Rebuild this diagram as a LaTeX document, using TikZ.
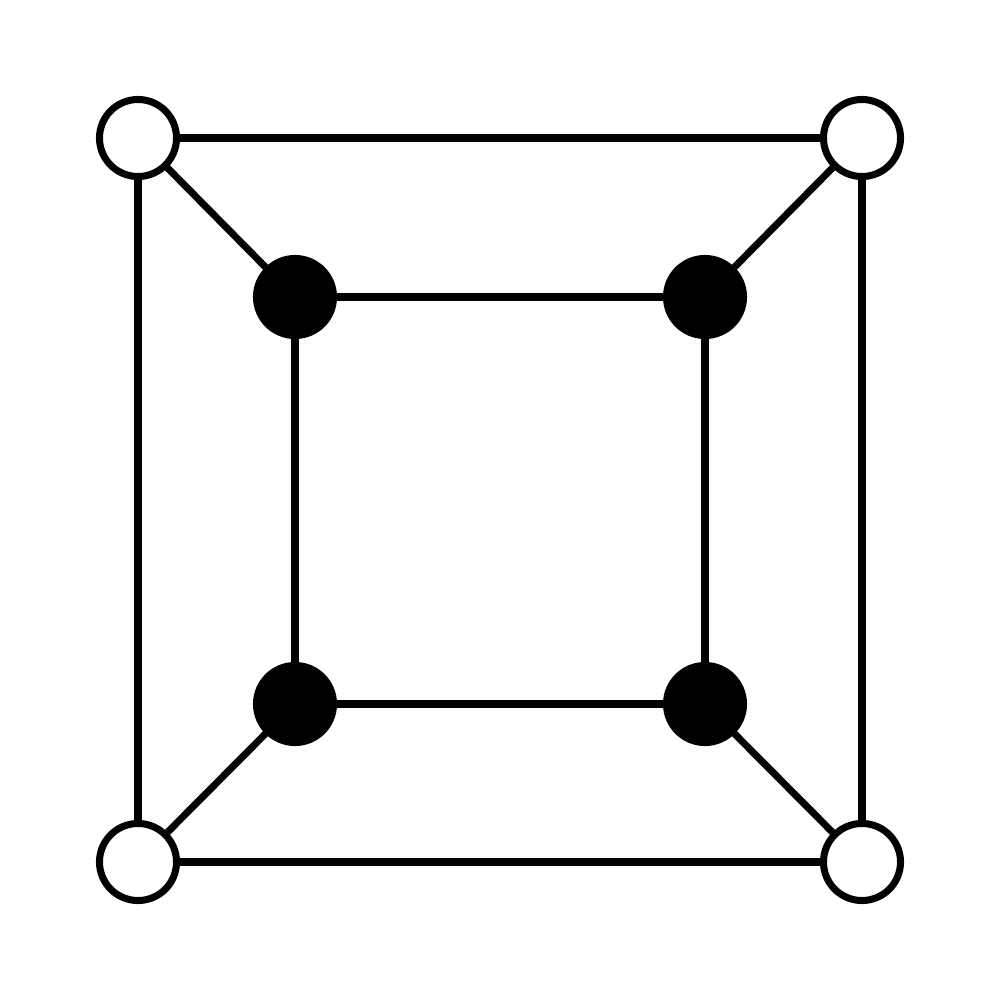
\documentclass[tikz,border=0pt]{standalone}
\begin{document}
\begin{tikzpicture}[x=0.01cm,y=-0.01cm,
  outer/.style={circle,draw=black,fill=white,line width=2pt,minimum size=0.77cm,inner sep=0pt},
  inner/.style={circle,draw=black,fill=black,line width=2pt,minimum size=0.77cm,inner sep=0pt},
  edge/.style={line width=2pt,black}]
\useasboundingbox[fill=white] (0,0) rectangle (1000,1000);
\node[outer] (o1) at (138,138) {};
\node[outer] (o2) at (862,138) {};
\node[outer] (o3) at (138,862) {};
\node[outer] (o4) at (862,862) {};
\node[inner] (i1) at (295,297) {};
\node[inner] (i2) at (705,297) {};
\node[inner] (i3) at (295,704) {};
\node[inner] (i4) at (705,704) {};
\draw[edge] (o1) -- (o2);
\draw[edge] (o2) -- (o4);
\draw[edge] (o4) -- (o3);
\draw[edge] (o3) -- (o1);
\draw[edge] (i1) -- (i2);
\draw[edge] (i2) -- (i4);
\draw[edge] (i4) -- (i3);
\draw[edge] (i3) -- (i1);
\draw[edge] (o1) -- (i1);
\draw[edge] (o2) -- (i2);
\draw[edge] (o3) -- (i3);
\draw[edge] (o4) -- (i4);
\end{tikzpicture}
\end{document}
